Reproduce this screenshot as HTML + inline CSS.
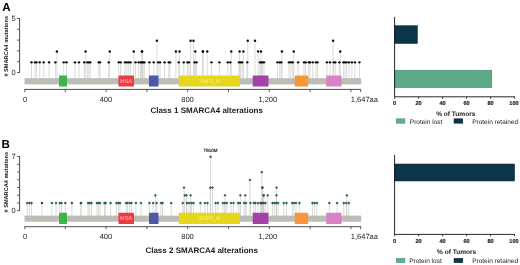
<!DOCTYPE html>
<html><head><meta charset="utf-8"><title>SMARCA4 alterations</title>
<style>
html,body{margin:0;padding:0;background:#fff;}
body{width:520px;height:265px;overflow:hidden;}
svg{display:block;filter:blur(0.3px);}
text{text-rendering:geometricPrecision;font-family:"Liberation Sans",Arial,sans-serif;fill:#1a1a1a;}
.b{font-weight:bold;}
.tk{font-size:7.5px;}
.bt{font-size:5.6px;font-weight:bold;stroke:#1a1a1a;stroke-width:0.15px;}
.lg{font-size:6.5px;}
.ttl{font-size:8px;font-weight:bold;}
.yl{font-size:5.6px;font-weight:bold;}
.pl{font-size:11.6px;font-weight:bold;fill:#000;}
.dm{font-size:5.8px;fill:#fbe9e9;}
</style></head><body>
<svg width="520" height="265" viewBox="0 0 520 265">
<rect width="520" height="265" fill="#fff"/>

<g>
<text class="pl" x="2.2" y="11.1">A</text>
<path d="M19.6 18.2V72.8" stroke="#222" stroke-width="0.8" fill="none"/>
<path d="M17 72.50H19.6M17 61.70H19.6M17 50.90H19.6M17 40.10H19.6M17 29.30H19.6M17 18.50H19.6" stroke="#222" stroke-width="0.7" fill="none"/>
<text class="tk" x="15.6" y="21.10" text-anchor="end">5</text>
<text class="tk" x="15.6" y="74.70" text-anchor="end">0</text>
<text class="yl" transform="translate(8.1 46.3) rotate(-90)" text-anchor="middle"># SMARCA4 mutations</text>
<path d="M31.50 62.20V78.7M35.00 62.20V78.7M36.40 62.20V78.7M39.70 62.20V78.7M43.75 62.20V78.7M49.10 62.20V78.7M55.40 62.20V78.7M56.90 51.40V78.7M63.75 62.20V78.7M66.50 62.20V78.7M75.00 62.20V78.7M79.00 62.20V78.7M84.20 62.20V78.7M85.60 51.40V78.7M87.25 62.20V78.7M88.75 62.20V78.7M90.25 62.20V78.7M98.75 62.20V78.7M100.00 62.20V78.7M108.75 62.20V78.7M109.75 51.40V78.7M118.75 62.20V78.7M120.60 62.20V78.7M125.00 62.20V78.7M126.90 62.20V78.7M128.75 62.20V78.7M130.60 62.20V78.7M133.75 51.40V78.7M135.60 62.20V78.7M138.75 62.20V78.7M140.60 62.20V78.7M141.90 62.20V78.7M141.90 51.40V78.7M142.10 51.40V78.7M143.10 62.20V78.7M144.40 62.20V78.7M149.40 62.20V78.7M153.75 62.20V78.7M156.90 40.60V78.7M158.10 62.20V78.7M160.00 62.20V78.7M164.60 62.20V78.7M168.75 62.20V78.7M170.00 62.20V78.7M175.90 51.40V78.7M178.75 62.20V78.7M179.60 51.40V78.7M183.75 62.20V78.7M187.50 62.20V78.7M189.00 62.20V78.7M190.60 40.60V78.7M193.50 40.60V78.7M194.60 62.20V78.7M195.25 51.40V78.7M196.50 62.20V78.7M202.75 51.40V78.7M203.10 51.40V78.7M207.25 51.40V78.7M211.50 62.20V78.7M219.40 62.20V78.7M227.75 62.20V78.7M230.25 62.20V78.7M231.25 51.40V78.7M239.00 62.20V78.7M239.60 51.40V78.7M240.60 62.20V78.7M242.10 62.20V78.7M243.40 51.40V78.7M247.25 62.20V78.7M247.75 40.60V78.7M255.00 40.60V78.7M258.10 51.40V78.7M260.00 62.20V78.7M261.00 51.40V78.7M261.20 62.20V78.7M262.40 62.20V78.7M264.00 62.20V78.7M277.50 62.20V78.7M279.75 62.20V78.7M281.25 62.20V78.7M281.90 51.40V78.7M289.00 62.20V78.7M290.90 62.20V78.7M292.75 62.20V78.7M293.75 51.40V78.7M298.10 62.20V78.7M304.00 62.20V78.7M305.60 62.20V78.7M308.75 62.20V78.7M310.00 62.20V78.7M312.75 62.20V78.7M315.90 62.20V78.7M317.50 62.20V78.7M326.90 62.20V78.7M330.00 62.20V78.7M333.10 40.60V78.7M333.75 62.20V78.7M335.25 62.20V78.7M339.40 62.20V78.7M340.25 51.40V78.7M343.40 62.20V78.7M345.00 62.20V78.7M346.50 62.20V78.7M349.00 62.20V78.7M351.90 62.20V78.7M355.00 62.20V78.7M359.40 62.20V78.7" stroke="#cbcbc9" stroke-width="0.7" fill="none"/>
<rect x="24.5" y="78.2" width="336.7" height="6.200000000000003" fill="#bdbdb6"/>
<rect x="59" y="75.5" width="8.00" height="11.10" fill="#3db54a" rx="0.4"/>
<rect x="118.5" y="75.5" width="15.50" height="11.10" fill="#ed3b40" rx="0.4"/>
<text x="126.25" y="83.05" text-anchor="middle" style="font-size:5.8px;fill:#fbd3d3">HSA</text>
<rect x="149" y="75.5" width="9.50" height="11.10" fill="#4c58a8" rx="0.4"/>
<rect x="178.75" y="75.5" width="61.25" height="11.10" fill="#e6d71e" rx="0.4"/>
<text x="209.57" y="83.05" text-anchor="middle" style="font-size:5.5px;fill:#f6f08c">SNF2_N</text>
<rect x="252.75" y="75.5" width="15.75" height="11.10" fill="#a241a6" rx="0.4"/>
<rect x="294.75" y="75.5" width="13.45" height="11.10" fill="#f7973a" rx="0.4"/>
<rect x="326.25" y="75.5" width="15.25" height="11.10" fill="#d982c6" rx="0.4"/>
<circle cx="31.50" cy="62.35" r="1.2" fill="#0a0a0a"/>
<circle cx="35.00" cy="62.35" r="1.2" fill="#0a0a0a"/>
<circle cx="36.40" cy="62.35" r="1.2" fill="#0a0a0a"/>
<circle cx="39.70" cy="62.35" r="1.2" fill="#0a0a0a"/>
<circle cx="43.75" cy="62.35" r="1.2" fill="#0a0a0a"/>
<circle cx="49.10" cy="62.35" r="1.2" fill="#0a0a0a"/>
<circle cx="55.40" cy="62.35" r="1.2" fill="#0a0a0a"/>
<circle cx="63.75" cy="62.35" r="1.2" fill="#0a0a0a"/>
<circle cx="66.50" cy="62.35" r="1.2" fill="#0a0a0a"/>
<circle cx="75.00" cy="62.35" r="1.2" fill="#0a0a0a"/>
<circle cx="79.00" cy="62.35" r="1.2" fill="#0a0a0a"/>
<circle cx="84.20" cy="62.35" r="1.2" fill="#0a0a0a"/>
<circle cx="87.25" cy="62.35" r="1.2" fill="#0a0a0a"/>
<circle cx="88.75" cy="62.35" r="1.2" fill="#0a0a0a"/>
<circle cx="90.25" cy="62.35" r="1.2" fill="#0a0a0a"/>
<circle cx="98.75" cy="62.35" r="1.2" fill="#0a0a0a"/>
<circle cx="100.00" cy="62.35" r="1.2" fill="#0a0a0a"/>
<circle cx="108.75" cy="62.35" r="1.2" fill="#0a0a0a"/>
<circle cx="118.75" cy="62.35" r="1.2" fill="#0a0a0a"/>
<circle cx="120.60" cy="62.35" r="1.2" fill="#0a0a0a"/>
<circle cx="125.00" cy="62.35" r="1.2" fill="#0a0a0a"/>
<circle cx="126.90" cy="62.35" r="1.2" fill="#0a0a0a"/>
<circle cx="128.75" cy="62.35" r="1.2" fill="#0a0a0a"/>
<circle cx="130.60" cy="62.35" r="1.2" fill="#0a0a0a"/>
<circle cx="135.60" cy="62.35" r="1.2" fill="#0a0a0a"/>
<circle cx="138.75" cy="62.35" r="1.2" fill="#0a0a0a"/>
<circle cx="140.60" cy="62.35" r="1.2" fill="#0a0a0a"/>
<circle cx="141.90" cy="62.35" r="1.2" fill="#0a0a0a"/>
<circle cx="143.10" cy="62.35" r="1.2" fill="#0a0a0a"/>
<circle cx="144.40" cy="62.35" r="1.2" fill="#0a0a0a"/>
<circle cx="149.40" cy="62.35" r="1.2" fill="#0a0a0a"/>
<circle cx="153.75" cy="62.35" r="1.2" fill="#0a0a0a"/>
<circle cx="158.10" cy="62.35" r="1.2" fill="#0a0a0a"/>
<circle cx="160.00" cy="62.35" r="1.2" fill="#0a0a0a"/>
<circle cx="164.60" cy="62.35" r="1.2" fill="#0a0a0a"/>
<circle cx="168.75" cy="62.35" r="1.2" fill="#0a0a0a"/>
<circle cx="170.00" cy="62.35" r="1.2" fill="#0a0a0a"/>
<circle cx="178.75" cy="62.35" r="1.2" fill="#0a0a0a"/>
<circle cx="183.75" cy="62.35" r="1.2" fill="#0a0a0a"/>
<circle cx="187.50" cy="62.35" r="1.2" fill="#0a0a0a"/>
<circle cx="189.00" cy="62.35" r="1.2" fill="#0a0a0a"/>
<circle cx="194.60" cy="62.35" r="1.2" fill="#0a0a0a"/>
<circle cx="196.50" cy="62.35" r="1.2" fill="#0a0a0a"/>
<circle cx="211.50" cy="62.35" r="1.2" fill="#0a0a0a"/>
<circle cx="219.40" cy="62.35" r="1.2" fill="#0a0a0a"/>
<circle cx="227.75" cy="62.35" r="1.2" fill="#0a0a0a"/>
<circle cx="230.25" cy="62.35" r="1.2" fill="#0a0a0a"/>
<circle cx="239.00" cy="62.35" r="1.2" fill="#0a0a0a"/>
<circle cx="240.60" cy="62.35" r="1.2" fill="#0a0a0a"/>
<circle cx="242.10" cy="62.35" r="1.2" fill="#0a0a0a"/>
<circle cx="247.25" cy="62.35" r="1.2" fill="#0a0a0a"/>
<circle cx="260.00" cy="62.35" r="1.2" fill="#0a0a0a"/>
<circle cx="261.20" cy="62.35" r="1.2" fill="#0a0a0a"/>
<circle cx="262.40" cy="62.35" r="1.2" fill="#0a0a0a"/>
<circle cx="264.00" cy="62.35" r="1.2" fill="#0a0a0a"/>
<circle cx="277.50" cy="62.35" r="1.2" fill="#0a0a0a"/>
<circle cx="279.75" cy="62.35" r="1.2" fill="#0a0a0a"/>
<circle cx="281.25" cy="62.35" r="1.2" fill="#0a0a0a"/>
<circle cx="289.00" cy="62.35" r="1.2" fill="#0a0a0a"/>
<circle cx="290.90" cy="62.35" r="1.2" fill="#0a0a0a"/>
<circle cx="292.75" cy="62.35" r="1.2" fill="#0a0a0a"/>
<circle cx="298.10" cy="62.35" r="1.2" fill="#0a0a0a"/>
<circle cx="304.00" cy="62.35" r="1.2" fill="#0a0a0a"/>
<circle cx="305.60" cy="62.35" r="1.2" fill="#0a0a0a"/>
<circle cx="308.75" cy="62.35" r="1.2" fill="#0a0a0a"/>
<circle cx="310.00" cy="62.35" r="1.2" fill="#0a0a0a"/>
<circle cx="312.75" cy="62.35" r="1.2" fill="#0a0a0a"/>
<circle cx="315.90" cy="62.35" r="1.2" fill="#0a0a0a"/>
<circle cx="317.50" cy="62.35" r="1.2" fill="#0a0a0a"/>
<circle cx="326.90" cy="62.35" r="1.2" fill="#0a0a0a"/>
<circle cx="330.00" cy="62.35" r="1.2" fill="#0a0a0a"/>
<circle cx="333.75" cy="62.35" r="1.2" fill="#0a0a0a"/>
<circle cx="335.25" cy="62.35" r="1.2" fill="#0a0a0a"/>
<circle cx="339.40" cy="62.35" r="1.2" fill="#0a0a0a"/>
<circle cx="343.40" cy="62.35" r="1.2" fill="#0a0a0a"/>
<circle cx="345.00" cy="62.35" r="1.2" fill="#0a0a0a"/>
<circle cx="346.50" cy="62.35" r="1.2" fill="#0a0a0a"/>
<circle cx="349.00" cy="62.35" r="1.2" fill="#0a0a0a"/>
<circle cx="351.90" cy="62.35" r="1.2" fill="#0a0a0a"/>
<circle cx="355.00" cy="62.35" r="1.2" fill="#0a0a0a"/>
<circle cx="359.40" cy="62.35" r="1.2" fill="#0a0a0a"/>
<circle cx="56.90" cy="51.55" r="1.2" fill="#0a0a0a"/>
<circle cx="85.60" cy="51.55" r="1.2" fill="#0a0a0a"/>
<circle cx="109.75" cy="51.55" r="1.2" fill="#0a0a0a"/>
<circle cx="133.75" cy="51.55" r="1.2" fill="#0a0a0a"/>
<circle cx="142.10" cy="51.55" r="1.2" fill="#0a0a0a"/>
<circle cx="141.90" cy="51.55" r="1.2" fill="#0a0a0a"/>
<circle cx="175.90" cy="51.55" r="1.2" fill="#0a0a0a"/>
<circle cx="179.60" cy="51.55" r="1.2" fill="#0a0a0a"/>
<circle cx="195.25" cy="51.55" r="1.2" fill="#0a0a0a"/>
<circle cx="203.10" cy="51.55" r="1.2" fill="#0a0a0a"/>
<circle cx="202.75" cy="51.55" r="1.2" fill="#0a0a0a"/>
<circle cx="207.25" cy="51.55" r="1.2" fill="#0a0a0a"/>
<circle cx="231.25" cy="51.55" r="1.2" fill="#0a0a0a"/>
<circle cx="239.60" cy="51.55" r="1.2" fill="#0a0a0a"/>
<circle cx="243.40" cy="51.55" r="1.2" fill="#0a0a0a"/>
<circle cx="258.10" cy="51.55" r="1.2" fill="#0a0a0a"/>
<circle cx="261.00" cy="51.55" r="1.2" fill="#0a0a0a"/>
<circle cx="281.90" cy="51.55" r="1.2" fill="#0a0a0a"/>
<circle cx="293.75" cy="51.55" r="1.2" fill="#0a0a0a"/>
<circle cx="340.25" cy="51.55" r="1.2" fill="#0a0a0a"/>
<circle cx="156.90" cy="40.75" r="1.2" fill="#0a0a0a"/>
<circle cx="190.60" cy="40.75" r="1.2" fill="#0a0a0a"/>
<circle cx="193.50" cy="40.75" r="1.2" fill="#0a0a0a"/>
<circle cx="247.75" cy="40.75" r="1.2" fill="#0a0a0a"/>
<circle cx="255.00" cy="40.75" r="1.2" fill="#0a0a0a"/>
<circle cx="333.10" cy="40.75" r="1.2" fill="#0a0a0a"/>
<path d="M24.5 89.4H361" stroke="#222" stroke-width="0.8" fill="none"/>
<path d="M24.80 89.4V92.2M65.30 89.4V92.2M106.10 89.4V92.2M146.90 89.4V92.2M187.71 89.4V92.2M228.51 89.4V92.2M269.31 89.4V92.2M310.11 89.4V92.2M350.91 89.4V92.2M360.70 89.4V92.2" stroke="#222" stroke-width="0.7" fill="none"/>
<text class="tk" x="25.20" y="101.5" text-anchor="middle">0</text>
<text class="tk" x="105.90" y="101.5" text-anchor="middle">400</text>
<text class="tk" x="187.51" y="101.5" text-anchor="middle">800</text>
<text class="tk" x="267.8" y="101.5" text-anchor="middle">1,200</text>
<text class="tk" x="350.8" y="101.5">1,647aa</text>
<text class="ttl" x="150.4" y="112.5">Class 1 SMARCA4 alterations</text>
</g>
<text x="210.6" y="152.4" text-anchor="middle" style="font-size:4.5px;fill:#000;stroke:#000;stroke-width:0.1px">T910M</text>
<g>
<text class="pl" x="1.4" y="147.8">B</text>
<path d="M19.6 156.28999999999996V211.0" stroke="#222" stroke-width="0.8" fill="none"/>
<path d="M17 210.70H19.6M17 202.97H19.6M17 195.24H19.6M17 187.51H19.6M17 179.78H19.6M17 172.05H19.6M17 164.32H19.6M17 156.59H19.6" stroke="#222" stroke-width="0.7" fill="none"/>
<text class="tk" x="15.6" y="159.19" text-anchor="end">7</text>
<text class="tk" x="15.6" y="212.90" text-anchor="end">0</text>
<text class="yl" transform="translate(8.1 182.2) rotate(-90)" text-anchor="middle"># SMARCA4 mutations</text>
<path d="M27.25 203.47V216.1M29.40 203.47V216.1M31.50 203.47V216.1M41.90 203.47V216.1M51.90 203.47V216.1M56.00 203.47V216.1M59.75 203.47V216.1M61.50 203.47V216.1M65.25 203.47V216.1M71.90 203.47V216.1M80.90 203.47V216.1M81.00 203.47V216.1M88.10 203.47V216.1M89.75 203.47V216.1M91.50 203.47V216.1M96.90 203.47V216.1M98.50 203.47V216.1M100.00 203.47V216.1M104.40 203.47V216.1M105.60 203.47V216.1M110.60 203.47V216.1M116.50 203.47V216.1M118.40 203.47V216.1M120.00 203.47V216.1M126.00 203.47V216.1M127.50 203.47V216.1M129.75 203.47V216.1M131.50 203.47V216.1M135.90 203.47V216.1M141.00 203.47V216.1M149.40 203.47V216.1M153.10 203.47V216.1M155.40 195.74V216.1M156.60 203.47V216.1M161.00 203.47V216.1M162.50 203.47V216.1M171.25 203.47V216.1M182.75 203.47V216.1M184.00 188.01V216.1M184.75 195.74V216.1M186.50 195.74V216.1M186.90 203.47V216.1M189.00 203.47V216.1M190.60 195.74V216.1M191.50 203.47V216.1M193.50 203.47V216.1M200.40 203.47V216.1M204.90 203.47V216.1M207.50 203.47V216.1M210.25 188.01V216.1M210.60 157.09V216.1M212.50 188.01V216.1M215.60 203.47V216.1M217.90 203.47V216.1M222.90 203.47V216.1M224.75 203.47V216.1M225.00 195.74V216.1M226.90 203.47V216.1M231.00 203.47V216.1M233.50 203.47V216.1M238.10 203.47V216.1M240.00 203.47V216.1M240.40 195.74V216.1M244.00 203.47V216.1M245.25 195.74V216.1M246.00 203.47V216.1M250.00 180.28V216.1M250.40 203.47V216.1M253.75 203.47V216.1M255.40 203.47V216.1M258.10 203.47V216.1M260.50 203.47V216.1M261.25 203.47V216.1M261.75 172.55V216.1M262.00 203.47V216.1M262.25 188.01V216.1M262.50 188.01V216.1M263.50 195.74V216.1M263.75 203.47V216.1M263.75 195.74V216.1M265.50 203.47V216.1M267.75 195.74V216.1M272.50 203.47V216.1M274.40 203.47V216.1M276.25 203.47V216.1M276.50 195.74V216.1M276.50 188.01V216.1M278.00 203.47V216.1M283.75 203.47V216.1M286.50 203.47V216.1M292.25 203.47V216.1M294.00 203.47V216.1M296.00 203.47V216.1M299.40 203.47V216.1M312.50 203.47V216.1M314.60 203.47V216.1M316.90 203.47V216.1M329.40 203.47V216.1M337.10 203.47V216.1M343.75 203.47V216.1M346.25 203.47V216.1M346.90 195.74V216.1M348.75 203.47V216.1" stroke="#cbcbc9" stroke-width="0.7" fill="none"/>
<rect x="24.5" y="215.6" width="336.7" height="6.099999999999994" fill="#bdbdb6"/>
<rect x="59" y="212.8" width="8.00" height="11.20" fill="#3db54a" rx="0.4"/>
<rect x="118.5" y="212.8" width="15.50" height="11.20" fill="#ed3b40" rx="0.4"/>
<text x="126.25" y="220.40" text-anchor="middle" style="font-size:5.8px;fill:#fbd3d3">HSA</text>
<rect x="149" y="212.8" width="9.50" height="11.20" fill="#4c58a8" rx="0.4"/>
<rect x="178.75" y="212.8" width="61.25" height="11.20" fill="#e6d71e" rx="0.4"/>
<text x="209.57" y="220.40" text-anchor="middle" style="font-size:5.5px;fill:#f6f08c">SNF2_N</text>
<rect x="252.75" y="212.8" width="15.75" height="11.20" fill="#a241a6" rx="0.4"/>
<rect x="294.75" y="212.8" width="13.45" height="11.20" fill="#f7973a" rx="0.4"/>
<rect x="326.25" y="212.8" width="15.25" height="11.20" fill="#d982c6" rx="0.4"/>
<circle cx="27.25" cy="203.07" r="0.95" fill="#1f7a4c" stroke="#17352a" stroke-width="0.45"/>
<circle cx="29.40" cy="203.07" r="0.95" fill="#1f7a4c" stroke="#17352a" stroke-width="0.45"/>
<circle cx="31.50" cy="203.07" r="0.95" fill="#1f7a4c" stroke="#17352a" stroke-width="0.45"/>
<circle cx="51.90" cy="203.07" r="0.95" fill="#1f7a4c" stroke="#17352a" stroke-width="0.45"/>
<circle cx="56.00" cy="203.07" r="0.95" fill="#1f7a4c" stroke="#17352a" stroke-width="0.45"/>
<circle cx="59.75" cy="203.07" r="0.95" fill="#1f7a4c" stroke="#17352a" stroke-width="0.45"/>
<circle cx="61.50" cy="203.07" r="0.95" fill="#1f7a4c" stroke="#17352a" stroke-width="0.45"/>
<circle cx="65.25" cy="203.07" r="0.95" fill="#1f7a4c" stroke="#17352a" stroke-width="0.45"/>
<circle cx="80.90" cy="203.07" r="0.95" fill="#1f7a4c" stroke="#17352a" stroke-width="0.45"/>
<circle cx="81.00" cy="203.07" r="0.95" fill="#1f7a4c" stroke="#17352a" stroke-width="0.45"/>
<circle cx="88.10" cy="203.07" r="0.95" fill="#1f7a4c" stroke="#17352a" stroke-width="0.45"/>
<circle cx="89.75" cy="203.07" r="0.95" fill="#1f7a4c" stroke="#17352a" stroke-width="0.45"/>
<circle cx="91.50" cy="203.07" r="0.95" fill="#1f7a4c" stroke="#17352a" stroke-width="0.45"/>
<circle cx="96.90" cy="203.07" r="0.95" fill="#1f7a4c" stroke="#17352a" stroke-width="0.45"/>
<circle cx="98.50" cy="203.07" r="0.95" fill="#1f7a4c" stroke="#17352a" stroke-width="0.45"/>
<circle cx="100.00" cy="203.07" r="0.95" fill="#1f7a4c" stroke="#17352a" stroke-width="0.45"/>
<circle cx="104.40" cy="203.07" r="0.95" fill="#1f7a4c" stroke="#17352a" stroke-width="0.45"/>
<circle cx="105.60" cy="203.07" r="0.95" fill="#1f7a4c" stroke="#17352a" stroke-width="0.45"/>
<circle cx="110.60" cy="203.07" r="0.95" fill="#1f7a4c" stroke="#17352a" stroke-width="0.45"/>
<circle cx="116.50" cy="203.07" r="0.95" fill="#1f7a4c" stroke="#17352a" stroke-width="0.45"/>
<circle cx="118.40" cy="203.07" r="0.95" fill="#1f7a4c" stroke="#17352a" stroke-width="0.45"/>
<circle cx="120.00" cy="203.07" r="0.95" fill="#1f7a4c" stroke="#17352a" stroke-width="0.45"/>
<circle cx="126.00" cy="203.07" r="0.95" fill="#1f7a4c" stroke="#17352a" stroke-width="0.45"/>
<circle cx="127.50" cy="203.07" r="0.95" fill="#1f7a4c" stroke="#17352a" stroke-width="0.45"/>
<circle cx="129.75" cy="203.07" r="0.95" fill="#1f7a4c" stroke="#17352a" stroke-width="0.45"/>
<circle cx="131.50" cy="203.07" r="0.95" fill="#1f7a4c" stroke="#17352a" stroke-width="0.45"/>
<circle cx="135.90" cy="203.07" r="0.95" fill="#1f7a4c" stroke="#17352a" stroke-width="0.45"/>
<circle cx="141.00" cy="203.07" r="0.95" fill="#1f7a4c" stroke="#17352a" stroke-width="0.45"/>
<circle cx="149.40" cy="203.07" r="0.95" fill="#1f7a4c" stroke="#17352a" stroke-width="0.45"/>
<circle cx="153.10" cy="203.07" r="0.95" fill="#1f7a4c" stroke="#17352a" stroke-width="0.45"/>
<circle cx="156.60" cy="203.07" r="0.95" fill="#1f7a4c" stroke="#17352a" stroke-width="0.45"/>
<circle cx="161.00" cy="203.07" r="0.95" fill="#1f7a4c" stroke="#17352a" stroke-width="0.45"/>
<circle cx="162.50" cy="203.07" r="0.95" fill="#1f7a4c" stroke="#17352a" stroke-width="0.45"/>
<circle cx="171.25" cy="203.07" r="0.95" fill="#1f7a4c" stroke="#17352a" stroke-width="0.45"/>
<circle cx="182.75" cy="203.07" r="0.95" fill="#1f7a4c" stroke="#17352a" stroke-width="0.45"/>
<circle cx="186.90" cy="203.07" r="0.95" fill="#1f7a4c" stroke="#17352a" stroke-width="0.45"/>
<circle cx="189.00" cy="203.07" r="0.95" fill="#1f7a4c" stroke="#17352a" stroke-width="0.45"/>
<circle cx="191.50" cy="203.07" r="0.95" fill="#1f7a4c" stroke="#17352a" stroke-width="0.45"/>
<circle cx="193.50" cy="203.07" r="0.95" fill="#1f7a4c" stroke="#17352a" stroke-width="0.45"/>
<circle cx="200.40" cy="203.07" r="0.95" fill="#1f7a4c" stroke="#17352a" stroke-width="0.45"/>
<circle cx="204.90" cy="203.07" r="0.95" fill="#1f7a4c" stroke="#17352a" stroke-width="0.45"/>
<circle cx="207.50" cy="203.07" r="0.95" fill="#1f7a4c" stroke="#17352a" stroke-width="0.45"/>
<circle cx="215.60" cy="203.07" r="0.95" fill="#1f7a4c" stroke="#17352a" stroke-width="0.45"/>
<circle cx="217.90" cy="203.07" r="0.95" fill="#1f7a4c" stroke="#17352a" stroke-width="0.45"/>
<circle cx="222.90" cy="203.07" r="0.95" fill="#1f7a4c" stroke="#17352a" stroke-width="0.45"/>
<circle cx="224.75" cy="203.07" r="0.95" fill="#1f7a4c" stroke="#17352a" stroke-width="0.45"/>
<circle cx="226.90" cy="203.07" r="0.95" fill="#1f7a4c" stroke="#17352a" stroke-width="0.45"/>
<circle cx="231.00" cy="203.07" r="0.95" fill="#1f7a4c" stroke="#17352a" stroke-width="0.45"/>
<circle cx="233.50" cy="203.07" r="0.95" fill="#1f7a4c" stroke="#17352a" stroke-width="0.45"/>
<circle cx="238.10" cy="203.07" r="0.95" fill="#1f7a4c" stroke="#17352a" stroke-width="0.45"/>
<circle cx="240.00" cy="203.07" r="0.95" fill="#1f7a4c" stroke="#17352a" stroke-width="0.45"/>
<circle cx="244.00" cy="203.07" r="0.95" fill="#1f7a4c" stroke="#17352a" stroke-width="0.45"/>
<circle cx="246.00" cy="203.07" r="0.95" fill="#1f7a4c" stroke="#17352a" stroke-width="0.45"/>
<circle cx="250.40" cy="203.07" r="0.95" fill="#1f7a4c" stroke="#17352a" stroke-width="0.45"/>
<circle cx="253.75" cy="203.07" r="0.95" fill="#1f7a4c" stroke="#17352a" stroke-width="0.45"/>
<circle cx="255.40" cy="203.07" r="0.95" fill="#1f7a4c" stroke="#17352a" stroke-width="0.45"/>
<circle cx="258.10" cy="203.07" r="0.95" fill="#1f7a4c" stroke="#17352a" stroke-width="0.45"/>
<circle cx="261.25" cy="203.07" r="0.95" fill="#1f7a4c" stroke="#17352a" stroke-width="0.45"/>
<circle cx="263.75" cy="203.07" r="0.95" fill="#1f7a4c" stroke="#17352a" stroke-width="0.45"/>
<circle cx="260.50" cy="203.07" r="0.95" fill="#1f7a4c" stroke="#17352a" stroke-width="0.45"/>
<circle cx="262.00" cy="203.07" r="0.95" fill="#1f7a4c" stroke="#17352a" stroke-width="0.45"/>
<circle cx="265.50" cy="203.07" r="0.95" fill="#1f7a4c" stroke="#17352a" stroke-width="0.45"/>
<circle cx="272.50" cy="203.07" r="0.95" fill="#1f7a4c" stroke="#17352a" stroke-width="0.45"/>
<circle cx="274.40" cy="203.07" r="0.95" fill="#1f7a4c" stroke="#17352a" stroke-width="0.45"/>
<circle cx="276.25" cy="203.07" r="0.95" fill="#1f7a4c" stroke="#17352a" stroke-width="0.45"/>
<circle cx="278.00" cy="203.07" r="0.95" fill="#1f7a4c" stroke="#17352a" stroke-width="0.45"/>
<circle cx="283.75" cy="203.07" r="0.95" fill="#1f7a4c" stroke="#17352a" stroke-width="0.45"/>
<circle cx="286.50" cy="203.07" r="0.95" fill="#1f7a4c" stroke="#17352a" stroke-width="0.45"/>
<circle cx="292.25" cy="203.07" r="0.95" fill="#1f7a4c" stroke="#17352a" stroke-width="0.45"/>
<circle cx="294.00" cy="203.07" r="0.95" fill="#1f7a4c" stroke="#17352a" stroke-width="0.45"/>
<circle cx="296.00" cy="203.07" r="0.95" fill="#1f7a4c" stroke="#17352a" stroke-width="0.45"/>
<circle cx="299.40" cy="203.07" r="0.95" fill="#1f7a4c" stroke="#17352a" stroke-width="0.45"/>
<circle cx="312.50" cy="203.07" r="0.95" fill="#1f7a4c" stroke="#17352a" stroke-width="0.45"/>
<circle cx="314.60" cy="203.07" r="0.95" fill="#1f7a4c" stroke="#17352a" stroke-width="0.45"/>
<circle cx="316.90" cy="203.07" r="0.95" fill="#1f7a4c" stroke="#17352a" stroke-width="0.45"/>
<circle cx="329.40" cy="203.07" r="0.95" fill="#1f7a4c" stroke="#17352a" stroke-width="0.45"/>
<circle cx="337.10" cy="203.07" r="0.95" fill="#1f7a4c" stroke="#17352a" stroke-width="0.45"/>
<circle cx="343.75" cy="203.07" r="0.95" fill="#1f7a4c" stroke="#17352a" stroke-width="0.45"/>
<circle cx="346.25" cy="203.07" r="0.95" fill="#1f7a4c" stroke="#17352a" stroke-width="0.45"/>
<circle cx="348.75" cy="203.07" r="0.95" fill="#1f7a4c" stroke="#17352a" stroke-width="0.45"/>
<circle cx="155.40" cy="195.34" r="0.95" fill="#1f7a4c" stroke="#17352a" stroke-width="0.45"/>
<circle cx="184.75" cy="195.34" r="0.95" fill="#1f7a4c" stroke="#17352a" stroke-width="0.45"/>
<circle cx="186.50" cy="195.34" r="0.95" fill="#1f7a4c" stroke="#17352a" stroke-width="0.45"/>
<circle cx="190.60" cy="195.34" r="0.95" fill="#1f7a4c" stroke="#17352a" stroke-width="0.45"/>
<circle cx="225.00" cy="195.34" r="0.95" fill="#1f7a4c" stroke="#17352a" stroke-width="0.45"/>
<circle cx="240.40" cy="195.34" r="0.95" fill="#1f7a4c" stroke="#17352a" stroke-width="0.45"/>
<circle cx="245.25" cy="195.34" r="0.95" fill="#1f7a4c" stroke="#17352a" stroke-width="0.45"/>
<circle cx="263.75" cy="195.34" r="0.95" fill="#1f7a4c" stroke="#17352a" stroke-width="0.45"/>
<circle cx="263.50" cy="195.34" r="0.95" fill="#1f7a4c" stroke="#17352a" stroke-width="0.45"/>
<circle cx="267.75" cy="195.34" r="0.95" fill="#1f7a4c" stroke="#17352a" stroke-width="0.45"/>
<circle cx="276.50" cy="195.34" r="0.95" fill="#1f7a4c" stroke="#17352a" stroke-width="0.45"/>
<circle cx="346.90" cy="195.34" r="0.95" fill="#1f7a4c" stroke="#17352a" stroke-width="0.45"/>
<circle cx="184.00" cy="187.61" r="0.95" fill="#1f7a4c" stroke="#17352a" stroke-width="0.45"/>
<circle cx="210.25" cy="187.61" r="0.95" fill="#1f7a4c" stroke="#17352a" stroke-width="0.45"/>
<circle cx="212.50" cy="187.61" r="0.95" fill="#1f7a4c" stroke="#17352a" stroke-width="0.45"/>
<circle cx="262.50" cy="187.61" r="0.95" fill="#1f7a4c" stroke="#17352a" stroke-width="0.45"/>
<circle cx="262.25" cy="187.61" r="0.95" fill="#1f7a4c" stroke="#17352a" stroke-width="0.45"/>
<circle cx="276.50" cy="187.61" r="0.95" fill="#1f7a4c" stroke="#17352a" stroke-width="0.45"/>
<circle cx="250.00" cy="179.88" r="0.95" fill="#1f7a4c" stroke="#17352a" stroke-width="0.45"/>
<circle cx="261.75" cy="172.15" r="0.95" fill="#1f7a4c" stroke="#17352a" stroke-width="0.45"/>
<circle cx="210.60" cy="156.69" r="0.95" fill="#1f7a4c" stroke="#17352a" stroke-width="0.45"/>
<circle cx="41.90" cy="203.07" r="0.95" fill="#1a1a1a" stroke="#17352a" stroke-width="0.45"/>
<circle cx="71.90" cy="203.07" r="0.95" fill="#6a1616" stroke="#17352a" stroke-width="0.45"/>
<path d="M24.5 226.7H361" stroke="#222" stroke-width="0.8" fill="none"/>
<path d="M24.80 226.7V229.3M65.30 226.7V229.3M106.10 226.7V229.3M146.90 226.7V229.3M187.71 226.7V229.3M228.51 226.7V229.3M269.31 226.7V229.3M310.11 226.7V229.3M350.91 226.7V229.3M360.70 226.7V229.3" stroke="#222" stroke-width="0.7" fill="none"/>
<text class="tk" x="25.20" y="238.6" text-anchor="middle">0</text>
<text class="tk" x="105.90" y="238.6" text-anchor="middle">400</text>
<text class="tk" x="187.51" y="238.6" text-anchor="middle">800</text>
<text class="tk" x="267.8" y="238.6" text-anchor="middle">1,200</text>
<text class="tk" x="350.8" y="238.6">1,647aa</text>
<text class="ttl" x="145.4" y="252.7">Class 2 SMARCA4 alterations</text>
</g>
<g>
<rect x="394.6" y="25.7" width="22.80" height="17.80" fill="#0b3549" stroke="#0a2433" stroke-width="0.5"/>
<rect x="394.6" y="70.2" width="97.20" height="17.40" fill="#5bab86" stroke="#3b7f62" stroke-width="0.5"/>
<path d="M394.6 16.9V96.8H514.9" stroke="#111" stroke-width="0.9" fill="none"/>
<text class="bt" x="394.60" y="105" text-anchor="middle">0</text>
<text class="bt" x="418.60" y="105" text-anchor="middle">20</text>
<text class="bt" x="442.60" y="105" text-anchor="middle">40</text>
<text class="bt" x="466.60" y="105" text-anchor="middle">60</text>
<text class="bt" x="490.60" y="105" text-anchor="middle">80</text>
<text class="bt" x="514.00" y="105" text-anchor="middle">100</text>
<path d="M394.60 96.8V98.8M418.60 96.8V98.8M442.60 96.8V98.8M466.60 96.8V98.8M490.60 96.8V98.8M514.60 96.8V98.8" stroke="#111" stroke-width="0.8" fill="none"/>
<text class="b" x="455.80" y="115.6" text-anchor="middle" style="font-size:6.55px">% of Tumors</text>
<rect x="396.2" y="118.8" width="8.7" height="4.4" fill="#63b08c" stroke="#3e8a69" stroke-width="0.5"/>
<text class="lg" x="409.80" y="123.5">Protein lost</text>
<rect x="454" y="118.8" width="8.8" height="4.4" fill="#0b3549" stroke="#0a2433" stroke-width="0.5"/>
<text class="lg" x="472.2" y="123.5">Protein retained</text>
</g>
<g>
<rect x="394.6" y="164" width="120.00" height="17.00" fill="#0b3549" stroke="#0a2433" stroke-width="0.5"/>
<path d="M394.6 154.8V234.4H514.9" stroke="#111" stroke-width="0.9" fill="none"/>
<text class="bt" x="394.60" y="243.1" text-anchor="middle">0</text>
<text class="bt" x="418.60" y="243.1" text-anchor="middle">20</text>
<text class="bt" x="442.60" y="243.1" text-anchor="middle">40</text>
<text class="bt" x="466.60" y="243.1" text-anchor="middle">60</text>
<text class="bt" x="490.60" y="243.1" text-anchor="middle">80</text>
<text class="bt" x="514.00" y="243.1" text-anchor="middle">100</text>
<path d="M394.60 234.4V236.4M418.60 234.4V236.4M442.60 234.4V236.4M466.60 234.4V236.4M490.60 234.4V236.4M514.60 234.4V236.4" stroke="#111" stroke-width="0.8" fill="none"/>
<text class="b" x="456.64" y="253.6" text-anchor="middle" style="font-size:6.55px">% of Tumors</text>
<rect x="396.2" y="258.3" width="8.7" height="4.4" fill="#63b08c" stroke="#3e8a69" stroke-width="0.5"/>
<text class="lg" x="409.20" y="263.0">Protein lost</text>
<rect x="454" y="258.3" width="8.8" height="4.4" fill="#0b3549" stroke="#0a2433" stroke-width="0.5"/>
<text class="lg" x="472.2" y="263.0">Protein retained</text>
</g>
</svg></body></html>
